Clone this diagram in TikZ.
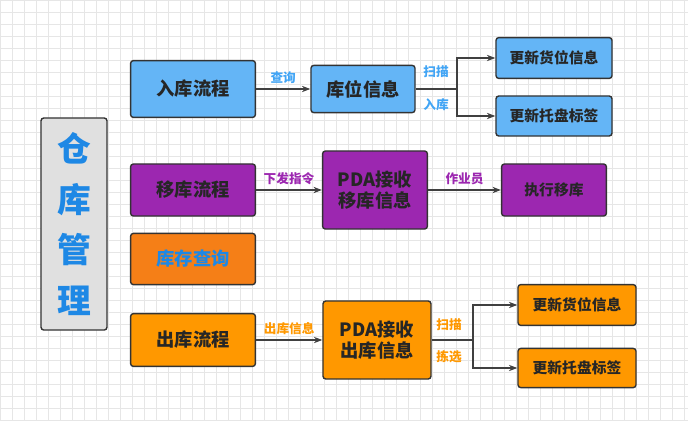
\documentclass[tikz,border=0pt]{standalone}
\usepackage{fontspec}
\setmainfont{Noto Sans CJK SC}
\usetikzlibrary{positioning,arrows.meta}
\definecolor{gridc}{HTML}{E6E6E6}
\definecolor{inblue}{HTML}{64B5F6}
\definecolor{lblblue}{HTML}{42A5F5}
\definecolor{mvpurple}{HTML}{9C27B0}
\definecolor{qorange}{HTML}{F57F17}
\definecolor{outorange}{HTML}{FF9800}
\definecolor{mgmtgray}{HTML}{E0E0E0}
\definecolor{mgmtblue}{HTML}{1E88E5}
\tikzset{
  box/.style={draw=black!80, line width=1pt, rounded corners=2pt, align=center,
    font=\bfseries\fontsize{13}{15}\selectfont, text=black!85, inner sep=0pt},
  small/.style={box, font=\bfseries\fontsize{10.5}{13}\selectfont},
  arr/.style={draw=black!75, line width=0.8pt, -{Stealth[length=6pt]}},
  lnk/.style={draw=black!75, line width=0.8pt},
  lbl/.style={font=\bfseries\fontsize{9}{11}\selectfont}
}
\begin{document}
\begin{tikzpicture}[x=0.025cm, y=-0.025cm]
  \useasboundingbox (0,0) rectangle (688,421);
  % background grid
  \draw[gridc, step=0.3cm] (0,0) grid (688,421);

  \node[box, fill=mgmtgray, text=mgmtblue, minimum width=1.65cm, minimum height=5.3cm,
    font=\bfseries\fontsize{24}{36}\selectfont] (mgmt) at (74,224) {仓\\库\\管\\理};

  % inbound
  \node[box, fill=inblue, minimum width=3.12cm, minimum height=1.42cm] (inflow) at (193,89) {入库流程};
  \node[box, fill=inblue, minimum width=2.6cm, minimum height=1.18cm] (inloc) at (363,89) {库位信息};
  \node[small, fill=inblue, minimum width=2.9cm, minimum height=1.02cm] (inslot) at (554,58) {更新货位信息};
  \node[small, fill=inblue, minimum width=2.9cm, minimum height=1.0cm] (intag) at (554,116) {更新托盘标签};
  \coordinate (insplit) at (457,89);
  \draw[arr] (inflow) -- node[lbl, text=lblblue, above] {查询} (inloc);
  \draw[lnk] (inloc) -- (insplit);
  \draw[arr] (insplit) |- (inslot);
  \draw[arr] (insplit) |- (intag);
  \node[lbl, text=lblblue] at (436,72) {扫描};
  \node[lbl, text=lblblue] at (436,105) {入库};

  % move
  \node[box, fill=mvpurple, minimum width=3.12cm, minimum height=1.3cm] (mvflow) at (193,190) {移库流程};
  \node[box, fill=mvpurple, minimum width=2.62cm, minimum height=1.95cm] (mvpda) at (375,190) {PDA接收\\移库信息};
  \node[small, fill=mvpurple, minimum width=2.62cm, minimum height=1.3cm] (mvexec) at (554,190) {执行移库};
  \draw[arr] (mvflow) -- node[lbl, text=mvpurple, above] {下发指令} (mvpda);
  \draw[arr] (mvpda) -- node[lbl, text=mvpurple, above] {作业员} (mvexec);

  % query
  \node[box, fill=qorange, text=mgmtblue, minimum width=3.12cm, minimum height=1.28cm] (query) at (193,259) {库存查询};

  % outbound
  \node[box, fill=outorange, minimum width=3.12cm, minimum height=1.32cm] (outflow) at (193,340) {出库流程};
  \node[box, fill=outorange, minimum width=2.7cm, minimum height=1.95cm] (outpda) at (377,340) {PDA接收\\出库信息};
  \node[small, fill=outorange, minimum width=2.95cm, minimum height=1.02cm] (outslot) at (577,305) {更新货位信息};
  \node[small, fill=outorange, minimum width=2.95cm, minimum height=0.98cm] (outtag) at (577,368) {更新托盘标签};
  \coordinate (outsplit) at (473,340);
  \draw[arr] (outflow) -- node[lbl, text=outorange, above] {出库信息} (outpda);
  \draw[lnk] (outpda) -- (outsplit);
  \draw[arr] (outsplit) |- (outslot);
  \draw[arr] (outsplit) |- (outtag);
  \node[lbl, text=outorange] at (449,325) {扫描};
  \node[lbl, text=outorange] at (449,357) {拣选};
\end{tikzpicture}
\end{document}
